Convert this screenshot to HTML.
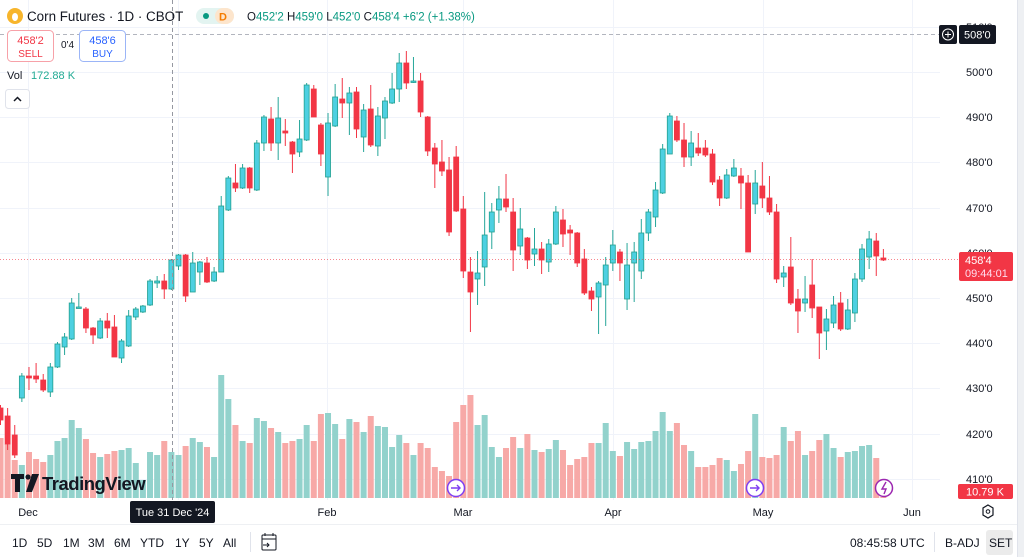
<!DOCTYPE html>
<html><head><meta charset="utf-8">
<style>
html,body{margin:0;padding:0;background:#fff;width:1024px;height:557px;overflow:hidden;font-family:"Liberation Sans",sans-serif;}
svg text{font-family:"Liberation Sans",sans-serif;}
</style></head>
<body>
<svg id="c" width="1024" height="557" viewBox="0 0 1024 557" xmlns="http://www.w3.org/2000/svg">
<rect x="0" y="0" width="1024" height="557" fill="#fff"/>
<rect x="1018" y="0" width="6" height="557" fill="#eef0f3"/>
<line x1="1017.5" y1="0" x2="1017.5" y2="557" stroke="#e0e3eb"/>
<g id="grid" stroke="#f0f3fa" stroke-width="1"></g>
<g id="vol"></g>
<g id="cnd"></g>
<line x1="172.5" y1="0" x2="172.5" y2="500" stroke="#9598a1" stroke-dasharray="4,3"/>
<line x1="0" y1="34.5" x2="940" y2="34.5" stroke="#b2b5be" stroke-dasharray="4,3"/>
<line x1="0" y1="259.5" x2="958" y2="259.5" stroke="#f23645" stroke-dasharray="1,2" opacity="0.6"/>
<g font-size="11" fill="#131722" id="plab"></g>
<rect x="939" y="25" width="18" height="19" rx="2" fill="#131722"/>
<circle cx="948" cy="34.5" r="5.5" fill="none" stroke="#fff" stroke-width="1"/>
<path d="M945 34.5h6M948 31.5v6" stroke="#fff" stroke-width="1"/>
<rect x="959" y="25" width="37" height="19" rx="2" fill="#131722"/>
<text x="964" y="38.5" font-size="11" fill="#fff">508'0</text>
<rect x="959" y="252" width="54" height="29" rx="2" fill="#f23645"/>
<text x="965" y="264" font-size="11" fill="#fff">458'4</text>
<text x="965" y="277" font-size="11" fill="#fde">09:44:01</text>
<rect x="958" y="484" width="55" height="15" rx="2" fill="#f23645"/>
<text x="966" y="495.5" font-size="11" fill="#fff">10.79 K</text>
<circle cx="15" cy="16" r="8" fill="#f7b52c"/>
<ellipse cx="15" cy="17" rx="3" ry="4" fill="#fff"/>
<text x="27" y="21" font-size="13.4" fill="#131722">Corn Futures · 1D · CBOT</text>
<rect x="196" y="8" width="38" height="16" rx="8" fill="#e3f4f1"/>
<rect x="215" y="8" width="19" height="16" rx="8" fill="#fde5cc"/>
<circle cx="206" cy="16" r="3" fill="#089981"/>
<text x="219" y="20.5" font-size="11" fill="#f57c00" font-weight="bold">D</text>
<text x="247" y="20.5" font-size="11.5" fill="#089981"><tspan fill="#131722">O</tspan>452'2 <tspan fill="#131722">H</tspan>459'0 <tspan fill="#131722">L</tspan>452'0 <tspan fill="#131722">C</tspan>458'4 +6'2 (+1.38%)</text>
<rect x="7.5" y="30.5" width="46" height="31" rx="4" fill="#fff" stroke="#f7a1a8"/>
<text x="30.5" y="44" font-size="11" fill="#f23645" text-anchor="middle">458'2</text>
<text x="30.5" y="57" font-size="10" fill="#f23645" text-anchor="middle">SELL</text>
<text x="61" y="48" font-size="10" fill="#131722">0'4</text>
<rect x="79.5" y="30.5" width="46" height="31" rx="4" fill="#fff" stroke="#9bb5f7"/>
<text x="102.5" y="44" font-size="11" fill="#2962ff" text-anchor="middle">458'6</text>
<text x="102.5" y="57" font-size="10" fill="#2962ff" text-anchor="middle">BUY</text>
<text x="7" y="79" font-size="11" fill="#131722">Vol</text>
<text x="31" y="79" font-size="11" fill="#22ab94">172.88 K</text>
<rect x="5.5" y="89.5" width="24" height="19" rx="3" fill="#fff" stroke="#e0e3eb"/>
<path d="M14 101l3.5-3.5 3.5 3.5" fill="none" stroke="#131722" stroke-width="1.5"/>
<g>
<path d="M11 474h13v5h-4v13h-5v-13h-4z" fill="#131722"/>
<circle cx="28" cy="477" r="2.6" fill="#131722"/>
<path d="M32 474h7l-7 18h-6z" fill="#131722"/>
<text x="42" y="490" font-size="18.5" font-weight="bold" fill="#131722" letter-spacing="-0.5">TradingView</text>
</g>
<g fill="#fff" stroke="#7e3ff2" stroke-width="1.5">
<circle cx="456" cy="488" r="8.5"/><circle cx="755" cy="488" r="8.5"/><circle cx="884" cy="488" r="8.5" stroke="#9c27b0"/>
</g>
<path d="M451 488h9m-3-3l3 3-3 3M750 488h9m-3-3l3 3-3 3" fill="none" stroke="#7e3ff2" stroke-width="1.4"/>
<path d="M886 482l-4 7h4l-2 5" fill="none" stroke="#9c27b0" stroke-width="1.4"/>
<g font-size="11" fill="#131722" text-anchor="middle">
<text x="28" y="516">Dec</text><text x="327" y="516">Feb</text><text x="463" y="516">Mar</text>
<text x="613" y="516">Apr</text><text x="763" y="516">May</text><text x="912" y="516">Jun</text>
</g>
<rect x="130" y="501" width="85" height="22" rx="2" fill="#131722"/>
<text x="172.5" y="516" font-size="11" fill="#fff" text-anchor="middle">Tue 31 Dec '24</text>
<path d="M988 505l5 3v7l-5 3-5-3v-7z" fill="none" stroke="#131722" stroke-width="1.2"/>
<circle cx="988" cy="511.5" r="1.8" fill="none" stroke="#131722"/>
<line x1="0" y1="524.5" x2="1017" y2="524.5" stroke="#eef0f3"/>
<g font-size="12" fill="#131722">
<text x="12" y="547">1D</text><text x="37" y="547">5D</text><text x="63" y="547">1M</text><text x="88" y="547">3M</text>
<text x="114" y="547">6M</text><text x="140" y="547">YTD</text><text x="175" y="547">1Y</text><text x="199" y="547">5Y</text><text x="223" y="547">All</text>
<text x="850" y="547">08:45:58 UTC</text><text x="945" y="547">B-ADJ</text>
</g>
<line x1="250.5" y1="532" x2="250.5" y2="552" stroke="#e0e3eb"/>
<line x1="934.5" y1="532" x2="934.5" y2="552" stroke="#e0e3eb"/>
<rect x="262" y="535" width="14" height="15" rx="1" fill="none" stroke="#131722"/>
<path d="M262 539h14M265 533v3M273 533v3M263 545h6m-2-2l2 2-2 2" fill="none" stroke="#131722"/>
<rect x="986" y="530" width="27" height="25" rx="3" fill="#ebebeb"/>
<text x="989" y="547" font-size="12" fill="#131722">SET</text>
</svg>
<script>
var NS="http://www.w3.org/2000/svg";
function el(p,t,a){var e=document.createElementNS(NS,t);for(var k in a)e.setAttribute(k,a[k]);p.appendChild(e);return e;}
var grid=document.getElementById('grid');
[27,72,117,162,208,253,298,343,388,434,479].forEach(function(y){el(grid,'line',{x1:0,x2:940,y1:y+.5,y2:y+.5});});
[28,178,327,463,613,763,912].forEach(function(x){el(grid,'line',{x1:x+.5,x2:x+.5,y1:0,y2:500});});
var pl=document.getElementById('plab');
var prices=[["510'0",27],["500'0",72],["490'0",117],["480'0",162],["470'0",208],["460'0",253],["450'0",298],["440'0",343],["430'0",388],["420'0",434],["410'0",479]];
prices.forEach(function(p){var t=el(pl,'text',{x:966,y:p[1]+4});t.textContent=p[0];});
var C=[
"d,408,420,405,425","d,416,444,408,450","d,435,455,425,458","u,376,398,373,402","d,376,378,367,390","d,376,379,363,383","d,380,390,374,392","u,367,392,363,397","u,344,367,342,368","u,337,347,333,355",
"u,303,339,298,340","u,307,308,293,308","d,309,328,307,333","d,328,335,327,344","u,321,338,318,339","d,321,328,313,338","d,327,357,315,357","u,341,358,339,363","u,316,346,310,347","u,309,317,307,320",
"u,306,312,305,313","u,281,305,279,306","u,281,283,276,288","d,281,289,274,299","u,260,289,259,290","u,255,266,254,270","d,255,296,254,302","u,263,292,252,292","u,262,272,261,285","d,263,282,257,283",
"u,272,281,267,282","u,206,272,196,272","u,178,210,176,211","d,183,188,164,192","u,168,188,164,189","d,168,188,167,193","u,143,190,140,191","u,117,143,115,151","d,119,143,107,151","u,118,143,97,160",
"d,131,133,119,146","d,142,154,141,173","u,139,152,120,157","u,85,140,83,141","d,89,117,85,117","d,125,154,123,166","u,123,177,113,196","u,97,126,84,127","d,99,103,78,118","u,93,103,87,135",
"d,92,129,87,138","u,110,137,104,152","d,109,145,85,147","u,116,146,107,156","u,101,118,97,139","u,89,103,73,104","u,63,89,53,102","d,63,83,51,89","u,81,82,57,83","d,81,112,73,117",
"d,117,151,116,156","d,148,164,143,188","d,162,171,140,176","d,170,232,157,236","d,157,211,146,212","d,209,271,196,278","d,272,292,257,332","u,273,279,251,305","u,235,267,192,286","u,212,232,203,249",
"u,199,210,186,223","d,199,207,174,212","d,212,250,198,271","u,229,246,208,255","d,238,260,237,269","u,249,254,228,266","d,249,260,242,274","u,244,262,239,272","u,212,244,206,245","d,220,234,209,247",
"d,230,233,225,255","d,233,263,232,267","d,259,293,249,295","d,291,299,287,311","u,283,297,281,334","u,265,285,257,326","u,245,263,230,271","d,252,263,249,281","u,265,299,243,310","u,252,263,242,302",
"u,233,271,219,279","u,212,233,209,241","u,190,217,182,227","u,149,193,144,194","u,116,154,113,154","d,121,140,116,142","d,140,157,123,167","u,143,157,131,166","d,148,153,133,156","d,148,155,140,157",
"d,154,182,149,185","d,180,198,176,206","u,175,198,169,199","u,168,176,159,177","d,176,183,168,209","d,183,252,175,252","u,183,204,170,214","d,186,198,162,208","d,198,212,176,215","d,212,279,204,283",
"u,273,277,266,287","d,267,303,237,305","d,299,311,289,333","u,299,303,276,312","d,285,308,259,318","d,307,333,307,359","u,319,331,309,350","u,305,323,296,328","d,303,329,292,331","u,310,329,299,330",
"u,279,313,273,322","u,249,279,244,282","u,239,257,231,269","d,241,256,233,276","d,258,260,249,261"];
var V=[438,444,460,465,452,459,462,455,441,438,420,428,439,453,457,454,451,450,448,463,480,452,455,441,452,455,446,438,442,447,
457,375,399,425,441,443,418,421,428,432,443,441,439,425,441,414,413,424,439,419,422,432,416,426,427,447,435,443,455,443,
448,467,471,476,422,405,395,425,415,447,457,448,437,448,434,450,452,449,440,450,465,459,457,443,443,423,451,456,442,449,
442,441,431,412,431,423,445,451,467,467,465,458,460,471,464,451,414,457,458,455,427,441,431,455,451,440,434,448,457,452,
451,446,445,458,497];
var vg=document.getElementById('vol'),cg=document.getElementById('cnd');
C.forEach(function(s,i){
 var a=s.split(','),up=a[0]=='u',bt=+a[1],bb=+a[2],wt=+a[3],wb=+a[4];
 var x=0.5+7.12*i;
 var vt=V[i];
 el(vg,'rect',{x:(x-3).toFixed(2),y:vt,width:6,height:498-vt,fill:up?'#92d2cc':'#f7a9a7'});
 el(cg,'line',{x1:x.toFixed(2),x2:x.toFixed(2),y1:wt,y2:wb,stroke:up?'#26a69a':'#f23645','stroke-width':1});
 var h=Math.max(bb-bt,1.5);
 el(cg,'rect',{x:(x-2.5).toFixed(2),y:bt,width:5,height:h,fill:up?'#4dd0e1':'#f23645',stroke:up?'#22a090':'#f23645','stroke-width':0.8});
});
</script>
</body></html>
